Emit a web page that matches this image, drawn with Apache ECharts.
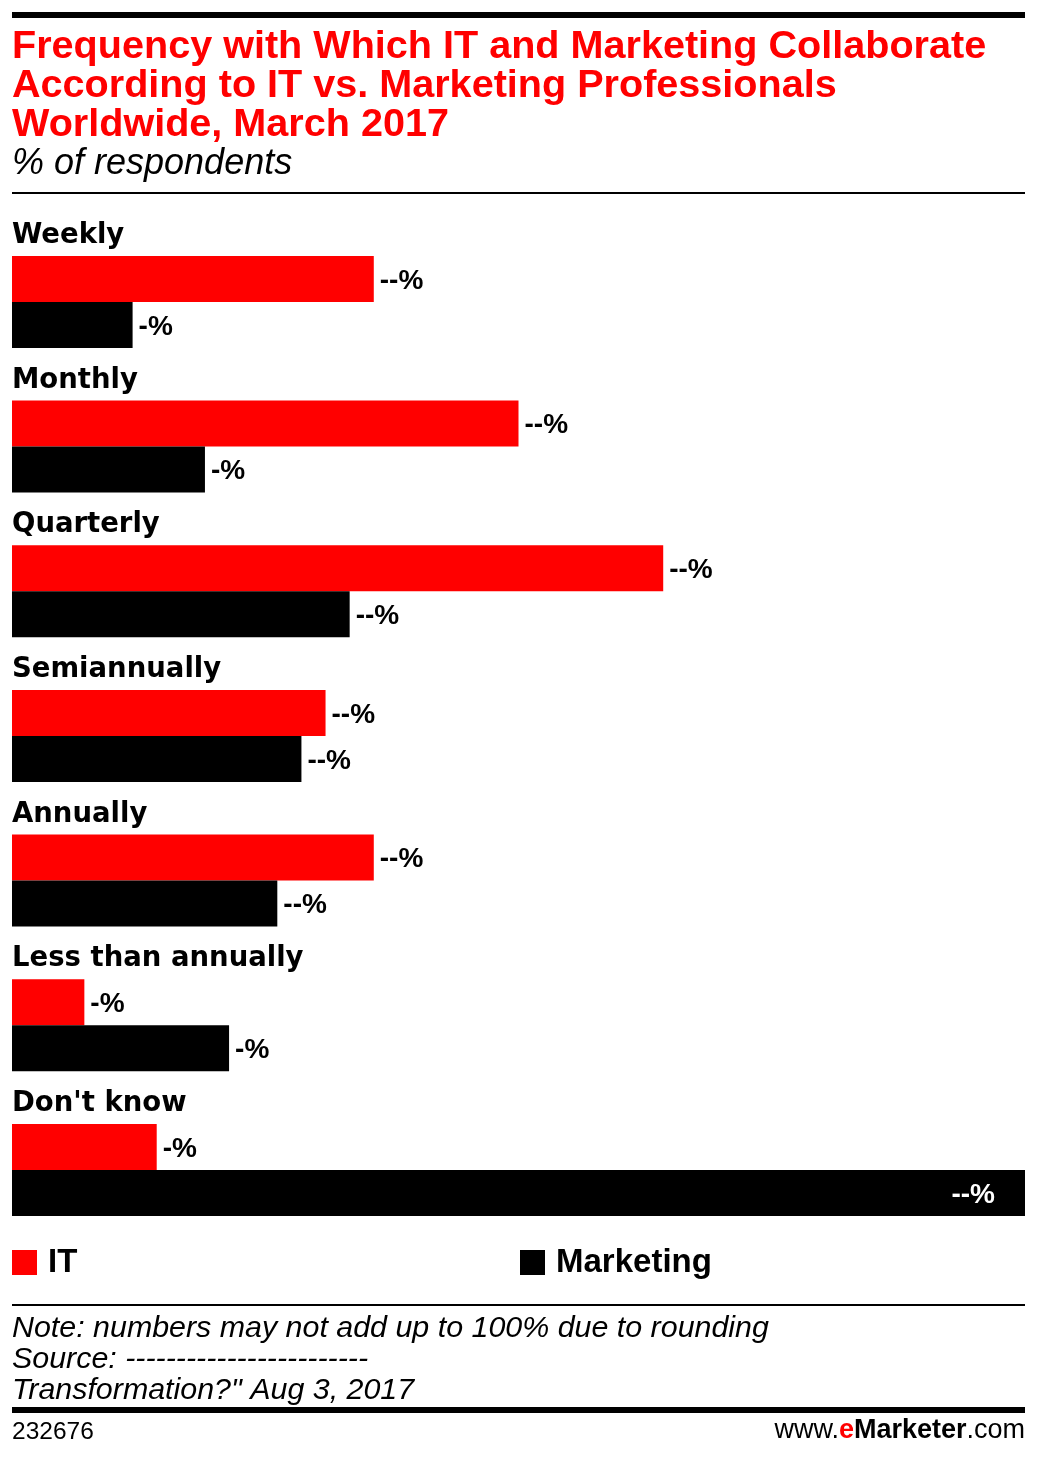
<!DOCTYPE html>
<html><head><meta charset="utf-8">
<script src="https://cdn.jsdelivr.net/npm/echarts@6/dist/echarts.min.js"></script>
<style>html,body{margin:0;padding:0;background:#fff}#c{width:1038px;height:1460px}</style>
</head><body><div id="c"></div>
<script>
const categories = ['Weekly','Monthly','Quarterly','Semiannually','Annually','Less than annually',"Don't know"];
const itValues = [15,21,27,13,15,3,6];
const marketingValues = [5,8,14,12,11,9,42];
const seriesNames = ['IT','Marketing'];
const titleLines = ['Frequency with Which IT and Marketing Collaborate','According to IT vs. Marketing Professionals','Worldwide, March 2017'];
const subtitle = '% of respondents';
const noteLines = ['Note: numbers may not add up to 100% due to rounding','Source: ------------------------','Transformation?" Aug 3, 2017'];
const chartId = '232676';

const RED = '#ff0000', BLACK = '#000000';
const sans = '"Liberation Sans", Arial, sans-serif';
const boldFont = '"DejaVu Sans", sans-serif';
const maxVal = Math.max(...itValues, ...marketingValues);
const mask = v => String(v).replace(/\d/g, '-') + '%';

function mkData(vals) {
  return vals.map(v => v === maxVal ? {value: v, label: {position: 'insideRight', color: '#fff', distance: 30}} : v);
}
const lbl = {show: true, position: 'right', distance: 6, offset: [0, 2], color: '#000', fontFamily: sans, fontWeight: 'bold', fontSize: 28, formatter: p => mask(p.value)};

const chart = echarts.init(document.getElementById('c'), null, {renderer: 'canvas'});
const graphic = [
  {type: 'rect', shape: {x: 12, y: 12, width: 1013, height: 6}, style: {fill: '#000'}},
  {type: 'rect', shape: {x: 12, y: 192, width: 1013, height: 2}, style: {fill: '#000'}},
  {type: 'rect', shape: {x: 12, y: 1304, width: 1013, height: 2}, style: {fill: '#000'}},
  {type: 'rect', shape: {x: 12, y: 1407, width: 1013, height: 6}, style: {fill: '#000'}},
];
titleLines.forEach((t, i) => graphic.push({type: 'text', left: 12, top: 27 + i * 39, style: {text: t, fill: RED, font: 'bold 39.6px ' + sans}}));
graphic.push({type: 'text', left: 12, top: 146, style: {text: subtitle, fill: '#000', font: 'italic 36px ' + sans}});
noteLines.forEach((t, i) => graphic.push({type: 'text', left: 12, top: 1314 + i * 31, style: {text: t, fill: '#000', font: 'italic 30.4px ' + sans}}));
graphic.push({type: 'text', left: 12, top: 1420, style: {text: chartId, fill: '#000', font: '24.5px ' + sans}});
graphic.push({type: 'text', right: 13, top: 1417, style: {rich: {a: {fontFamily: sans, fontSize: 27, fill: '#000'}, b: {fontFamily: sans, fontSize: 27, fontWeight: 'bold', fill: RED}, c: {fontFamily: sans, fontSize: 27, fontWeight: 'bold', fill: '#000'}}, text: '{a|www.}{b|e}{c|Marketer}{a|.com}'}});

const legendText = {fontFamily: sans, fontWeight: 'bold', fontSize: 33, color: '#000', padding: [0, 0, 0, 6]};
chart.setOption({
  animation: false,
  graphic: graphic,
  legend: [
    {data: [seriesNames[0]], left: 12, top: 1246, padding: 0, icon: 'rect', itemWidth: 25, itemHeight: 25, textStyle: legendText},
    {data: [seriesNames[1]], left: 520, top: 1246, padding: 0, icon: 'rect', itemWidth: 25, itemHeight: 25, textStyle: legendText}
  ],
  grid: {left: 12, top: 229.6, width: 1013, height: 1012.7, containLabel: false},
  xAxis: {type: 'value', min: 0, max: maxVal, show: false},
  yAxis: {type: 'category', data: categories, inverse: true,
    axisLine: {show: false}, axisTick: {show: false}, splitLine: {show: false},
    axisLabel: {inside: true, margin: 0, align: 'left', verticalAlign: 'middle', interval: 0, showMinLabel: true, showMaxLabel: true, hideOverlap: false,
      formatter: v => '{a|' + v + '}\n{sp|}',
      rich: {a: {color: '#000', fontFamily: boldFont, fontWeight: 'bold', fontSize: 27.5, lineHeight: 28, height: 28}, sp: {height: 132, lineHeight: 132}}},
    z: 10},
  series: [
    {name: seriesNames[0], type: 'bar', data: mkData(itValues), itemStyle: {color: RED}, barWidth: 46, barGap: '0%', label: lbl},
    {name: seriesNames[1], type: 'bar', data: mkData(marketingValues), itemStyle: {color: BLACK}, barWidth: 46, barGap: '0%', label: lbl}
  ]
});
</script></body></html>
